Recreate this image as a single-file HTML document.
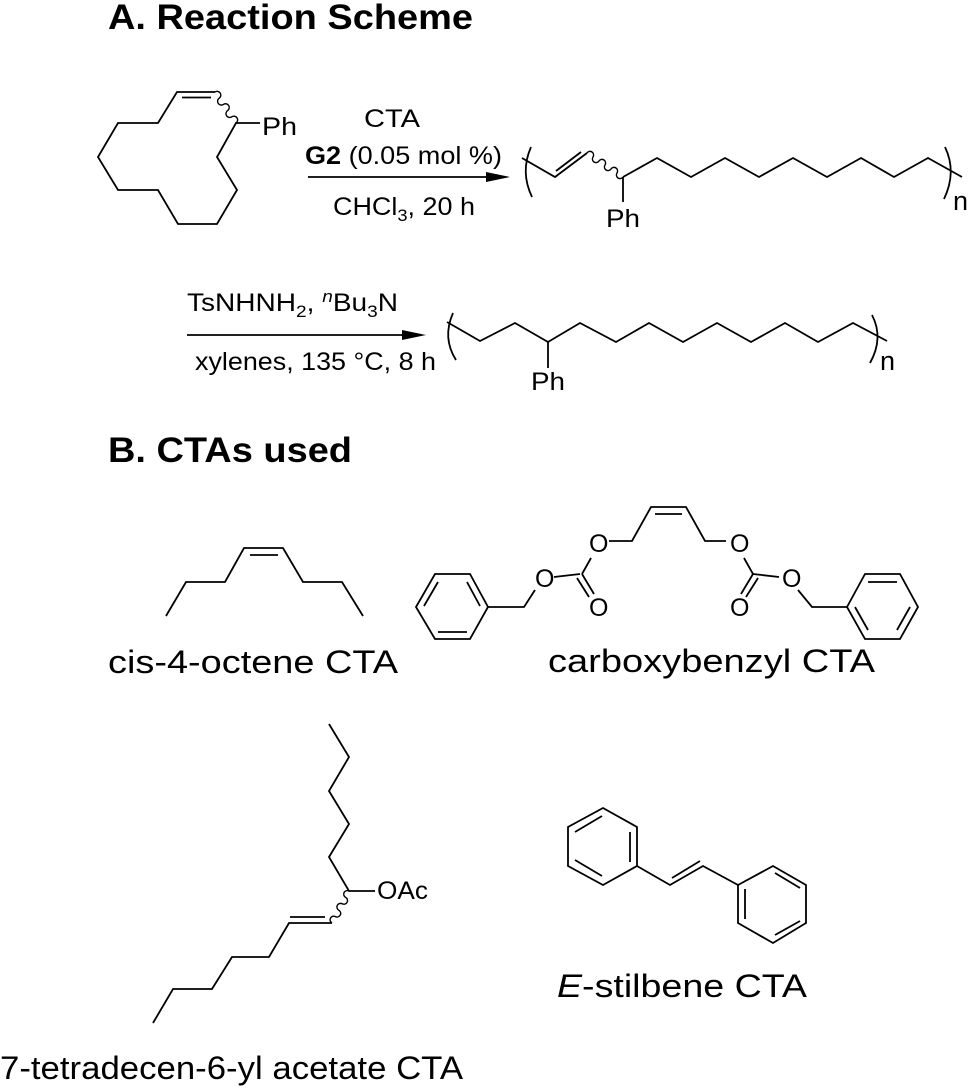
<!DOCTYPE html>
<html><head><meta charset="utf-8"><style>
html,body{margin:0;padding:0;background:#fff}
svg{display:block}
text{font-family:"Liberation Sans",Arial,sans-serif;fill:#000}
</style></head><body>
<svg width="970" height="1091" viewBox="0 0 970 1091" xmlns="http://www.w3.org/2000/svg">
<text x="108" y="29" font-size="35" font-weight="bold" textLength="365" lengthAdjust="spacingAndGlyphs">A. Reaction Scheme</text>
<text x="108" y="462" font-size="35" font-weight="bold" textLength="244" lengthAdjust="spacingAndGlyphs">B. CTAs used</text>

<g fill="none" stroke="#000" stroke-width="1.8" stroke-linejoin="miter">
<polyline points="215,92 177,92 158,123 118,123 98,157 118,190 158,190 178,224 217,224 237,190 217,157 236,123 260,123"/>
<line x1="182" y1="97.5" x2="211" y2="97.5"/>
<path d="M215,92 a3.5,3.5 0 0 1 4.2,6.2 a3.5,3.5 0 0 0 4.2,6.2 a3.5,3.5 0 0 1 4.2,6.2 a3.5,3.5 0 0 0 4.2,6.2 a3.5,3.5 0 0 1 4.2,6.2" stroke-width="1.4"/>
<line x1="308" y1="177" x2="504" y2="177"/>
<path d="M486,172 L510,177 L486,182 Z" fill="#000" stroke="none"/>
<line x1="187" y1="335" x2="420" y2="335"/>
<path d="M402,330 L426,335 L402,340 Z" fill="#000" stroke="none"/>
<path d="M531,147 Q520,172 532,197"/>
<polyline points="522,158 555,177 587,153"/>
<line x1="556" y1="171" x2="581" y2="152"/>
<path d="M587,153 a3,3 0 0 1 6,4 a3,3 0 0 0 6,4 a3,3 0 0 1 6,4 a3,3 0 0 0 6,4 a3,3 0 0 1 6,4 a3,3 0 0 0 6,4" stroke-width="1.4"/>
<line x1="623" y1="177" x2="623" y2="202"/>
<polyline points="623,177 657,158 691,177 725,158 759,177 793,158 827,177 861,158 894,177 928,158 962,177"/>
<path d="M945,147 Q957,172 944,199"/>
<path d="M453,313 Q442,338 456,360"/>
<polyline points="447,322 480,341 515,323 548,342 580,323 616,342 649,323 683,342 717,323 751,342 785,323 818,342 853,323 887,341"/>
<line x1="548" y1="342" x2="548" y2="368"/>
<path d="M872,315 Q884,338 870,363"/>
<polyline points="166,616 186,582 225,582 244,548 283,548 303,582 342,582 363,616"/>
<line x1="250" y1="555" x2="278" y2="555"/>
<polygon points="416,607 435,574 470,574 488,607 470,639 435,639"/>
<line x1="424" y1="606" x2="438" y2="582"/><line x1="467" y1="582" x2="480" y2="606"/><line x1="438" y1="632" x2="467" y2="632"/>
<polyline points="488,607 524,607 535,590"/>
<line x1="554" y1="577" x2="580" y2="574"/>
<line x1="582" y1="574" x2="591" y2="558"/>
<line x1="582" y1="574" x2="594" y2="594"/><line x1="577" y1="578" x2="589" y2="597"/>
<polyline points="609,541 632,541 651,507 686,507 705,541 726,541"/>
<line x1="655" y1="514" x2="682" y2="514"/>
<line x1="744" y1="558" x2="753" y2="574"/>
<line x1="753" y1="574" x2="779" y2="577"/>
<line x1="753" y1="574" x2="741" y2="594"/><line x1="758" y1="578" x2="746" y2="597"/>
<polyline points="798,590 812,607 847,607"/>
<polygon points="847,607 865,574 900,574 918,607 900,639 865,639"/>
<line x1="868" y1="582" x2="897" y2="582"/><line x1="910" y1="607" x2="897" y2="630"/><line x1="855" y1="607" x2="868" y2="630"/>
<polyline points="329,724 349,757 329,791 349,824 329,857 349,891 375,891"/>
<path d="M349,891 a3,3 0 0 0 -3.4,6.4 a3,3 0 0 1 -3.4,6.4 a3,3 0 0 0 -3.4,6.4 a3,3 0 0 1 -3.4,6.4 a3,3 0 0 0 -3.4,6.4" stroke-width="1.4"/>
<polyline points="332,923 289,923 269,957 232,957 212,989 173,989 153,1023"/>
<line x1="290" y1="917" x2="325" y2="917"/>
<polygon points="603,808 637,827 637,866 603,885 568,866 568,827"/>
<line x1="575" y1="832" x2="602" y2="816"/><line x1="630" y1="832" x2="630" y2="862"/><line x1="575" y1="860" x2="602" y2="876"/>
<polyline points="637,866 670,885 703,866 738,885"/>
<line x1="672" y1="878" x2="700" y2="861"/>
<polygon points="738,885 773,866 806,885 806,923 773,943 738,923"/>
<line x1="745" y1="889" x2="745" y2="919"/><line x1="775" y1="873" x2="800" y2="888"/><line x1="775" y1="935" x2="800" y2="921"/>
</g>

<g font-size="25">
<text x="262" y="135" textLength="35" lengthAdjust="spacingAndGlyphs">Ph</text>
<text x="364" y="127" textLength="56" lengthAdjust="spacingAndGlyphs">CTA</text>
<text x="305" y="164" textLength="197" lengthAdjust="spacingAndGlyphs"><tspan font-weight="bold">G2</tspan> (0.05 mol %)</text>
<text x="333" y="215" textLength="142" lengthAdjust="spacingAndGlyphs">CHCl<tspan font-size="17" dy="6">3</tspan><tspan dy="-6">, 20 h</tspan></text>
<text x="606" y="227" textLength="34" lengthAdjust="spacingAndGlyphs">Ph</text>
<text x="953" y="210" font-size="27">n</text>
<text x="187" y="311" textLength="211" lengthAdjust="spacingAndGlyphs">TsNHNH<tspan font-size="17" dy="6">2</tspan><tspan dy="-6">, </tspan><tspan font-size="17" font-style="italic" dy="-9">n</tspan><tspan dy="9">Bu</tspan><tspan font-size="17" dy="6">3</tspan><tspan dy="-6">N</tspan></text>
<text x="195" y="370" textLength="241" lengthAdjust="spacingAndGlyphs">xylenes, 135 °C, 8 h</text>
<text x="531" y="390" textLength="34" lengthAdjust="spacingAndGlyphs">Ph</text>
<text x="880" y="370" font-size="27">n</text>
<text x="535" y="587">O</text>
<text x="589" y="552">O</text>
<text x="589" y="616">O</text>
<text x="730" y="552">O</text>
<text x="782" y="587">O</text>
<text x="730" y="616">O</text>
<text x="377" y="899" textLength="51" lengthAdjust="spacingAndGlyphs">OAc</text>
</g>
<g font-size="32">
<text x="108" y="673" textLength="290" lengthAdjust="spacingAndGlyphs">cis-4-octene CTA</text>
<text x="548" y="672" textLength="327" lengthAdjust="spacingAndGlyphs">carboxybenzyl CTA</text>
<text x="557" y="997" textLength="250" lengthAdjust="spacingAndGlyphs"><tspan font-style="italic">E</tspan>-stilbene CTA</text>
<text x="0" y="1079" textLength="463" lengthAdjust="spacingAndGlyphs">7-tetradecen-6-yl acetate CTA</text>
</g>
</svg>
</body></html>
